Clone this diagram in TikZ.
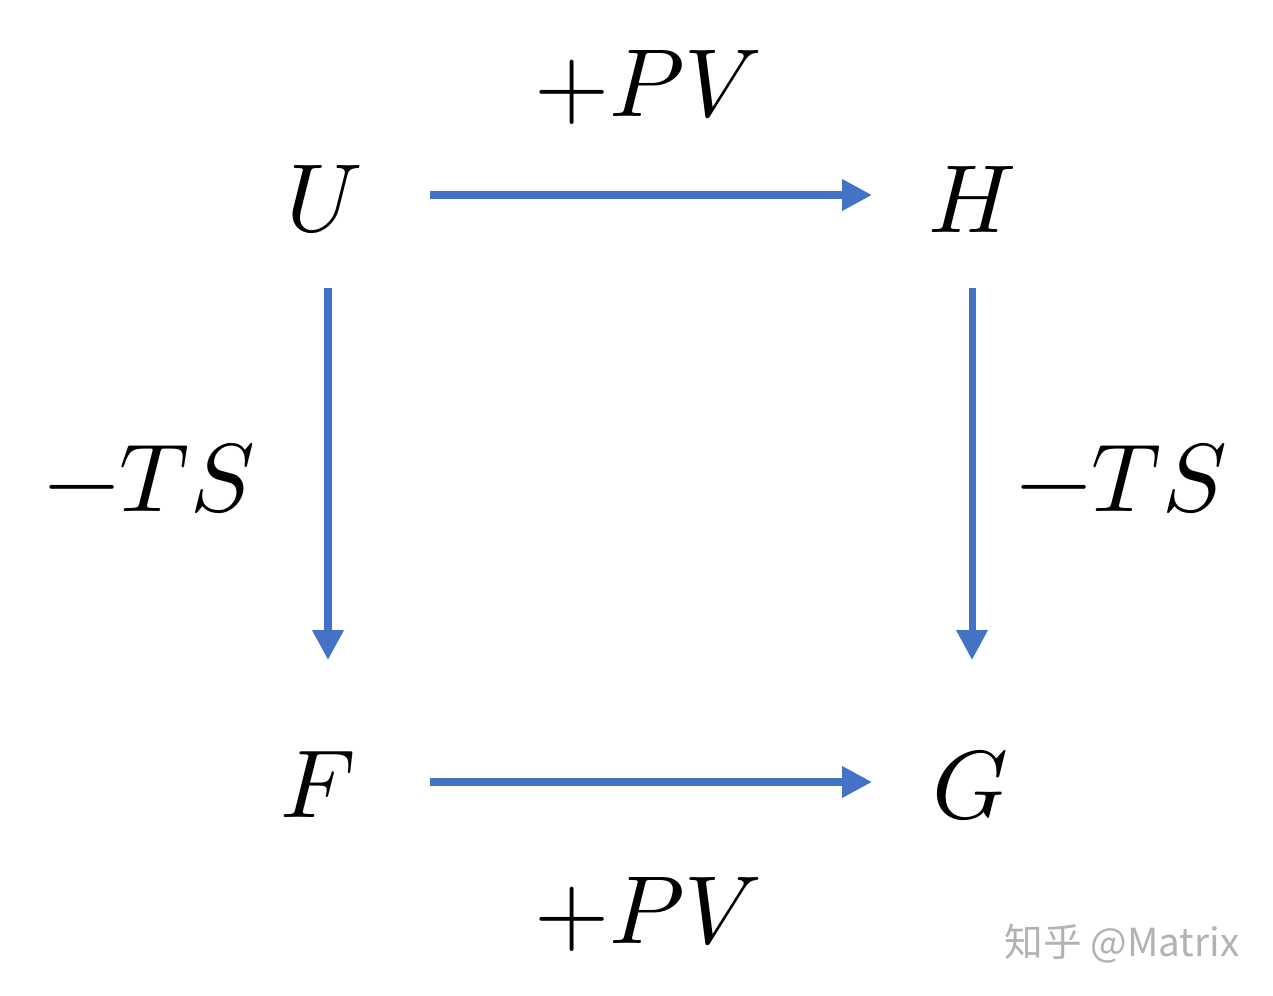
\documentclass[tikz,border=0pt]{standalone}
\usepackage{fontspec}
\usepackage{unicode-math}
\setmathfont{Latin Modern Math}
\newfontfamily\cjk{Noto Sans CJK SC}
\usetikzlibrary{arrows.meta}
\definecolor{arrblue}{HTML}{4472C4}
\tikzset{
  lbl/.style={font=\fontsize{55}{57}\selectfont, inner sep=0pt},
  arr/.style={draw=arrblue, line width=4pt, -{Triangle[length=0.6cm,width=0.6cm]}}
}
\begin{document}
\begin{tikzpicture}[x=0.02cm,y=-0.02cm]
\useasboundingbox (0,0) rectangle (1273,996);
\node[lbl] (U) at (325,200) {$U$};
\node[lbl] (H) at (972,200) {$H$};
\node[lbl] (F) at (318,785) {$F$};
\node[lbl] (G) at (970,785) {$G$};
\node[lbl] (pv1) at (648,88) {$+PV$};
\node[lbl] (pv2) at (648,915) {$+PV$};
\node[lbl] (ts1) at (150,478) {$-TS$};
\node[lbl] (ts2) at (1122,478) {$-TS$};
\coordinate (a1) at (430,195); \coordinate (b1) at (872,195);
\coordinate (a2) at (430,782); \coordinate (b2) at (872,782);
\coordinate (a3) at (328,288); \coordinate (b3) at (328,660);
\coordinate (a4) at (972,288); \coordinate (b4) at (972,660);
\draw[arr] (a1) -- (b1);
\draw[arr] (a2) -- (b2);
\draw[arr] (a3) -- (b3);
\draw[arr] (a4) -- (b4);
\node[text=black!30, font=\cjk\fontsize{22}{24}\selectfont, inner sep=0pt] (wm) at (1122,944) {知乎 @Matrix};
\end{tikzpicture}
\end{document}
